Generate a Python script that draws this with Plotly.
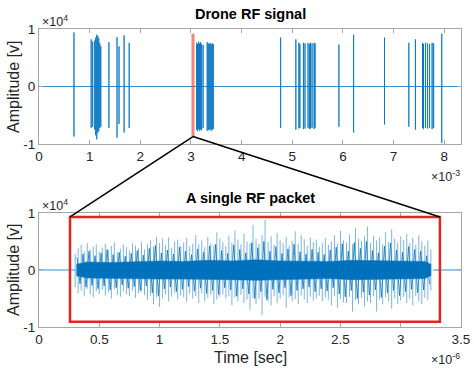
import plotly.graph_objects as go

# ---------------- data ----------------
# Top: burst positions (x in units of 1e-3 s) and peak amplitudes (units of 1e4 V)
burst_x = [0.69, 1.03, 1.06, 1.10, 1.12, 1.14, 1.16, 1.18, 1.20, 1.22, 1.38, 1.54, 1.58, 1.68, 1.78,
           3.11, 3.13, 3.15, 3.17, 3.19, 3.21, 3.24, 3.32, 3.34, 3.36, 3.38, 3.40, 3.42, 3.44,
           4.77, 5.07, 5.13, 5.15, 5.22, 5.25, 5.31, 5.34, 5.36, 5.39, 5.43, 5.45,
           5.92, 6.21, 6.82, 7.30, 7.43, 7.57, 7.59, 7.63, 7.67, 7.71, 7.76, 7.79, 7.95]
burst_top = [0.94, 0.82, 0.78, 0.80, 0.85, 0.90, 0.88, 0.84, 0.75, 0.70, 0.77, 0.86, 0.70, 0.89, 0.76,
             0.76, 0.74, 0.78, 0.75, 0.77, 0.74, 0.72, 0.77, 0.75, 0.74, 0.76, 0.73, 0.75, 0.74,
             0.85, 0.82, 0.76, 0.74, 0.76, 0.75, 0.76, 0.74, 0.76, 0.75, 0.76, 0.75,
             0.73, 0.90, 0.85, 0.76, 0.82, 0.76, 0.74, 0.76, 0.75, 0.74, 0.76, 0.75, 0.92]
burst_bot = [-0.87, -0.72, -0.70, -0.75, -0.85, -0.92, -0.80, -0.78, -0.72, -0.70, -0.72, -0.89, -0.65, -0.80, -0.72,
             -0.75, -0.78, -0.74, -0.77, -0.75, -0.76, -0.72, -0.77, -0.75, -0.76, -0.74, -0.77, -0.75, -0.74,
             -0.72, -0.75, -0.73, -0.72, -0.74, -0.73, -0.72, -0.74, -0.73, -0.72, -0.74, -0.72,
             -0.70, -0.80, -0.66, -0.70, -0.75, -0.72, -0.74, -0.72, -0.73, -0.72, -0.74, -0.72, -0.98]
top_xmax = 8.33
highlight_x = [3.01, 3.07]
highlight_y = [-0.87, 0.92]

# Bottom: single packet (x in units of 1e-6 s, amplitude in 1e4 V), read as spike tips
pk_x = [0.300, 0.325, 0.350, 0.375, 0.400, 0.425, 0.450, 0.475, 0.500, 0.525,
        0.550, 0.575, 0.600, 0.625, 0.650, 0.675, 0.700, 0.725, 0.750, 0.775,
        0.800, 0.825, 0.850, 0.875, 0.900, 0.925, 0.950, 0.975, 1.000, 1.025,
        1.050, 1.075, 1.100, 1.125, 1.150, 1.175, 1.200, 1.225, 1.250, 1.275,
        1.300, 1.325, 1.350, 1.375, 1.400, 1.425, 1.450, 1.475, 1.500, 1.525,
        1.550, 1.575, 1.600, 1.625, 1.650, 1.675, 1.700, 1.725, 1.750, 1.775,
        1.800, 1.825, 1.850, 1.875, 1.900, 1.925, 1.950, 1.975, 2.000, 2.025,
        2.050, 2.075, 2.100, 2.125, 2.150, 2.175, 2.200, 2.225, 2.250, 2.275,
        2.300, 2.325, 2.350, 2.375, 2.400, 2.425, 2.450, 2.475, 2.500, 2.525,
        2.550, 2.575, 2.600, 2.625, 2.650, 2.675, 2.700, 2.725, 2.750, 2.775,
        2.800, 2.825, 2.850, 2.875, 2.900, 2.925, 2.950, 2.975, 3.000, 3.025,
        3.050, 3.075, 3.100, 3.125, 3.150, 3.175, 3.200, 3.225, 3.250]
pk_up = [0.28, 0.38, 0.44, 0.33, 0.47, 0.36, 0.41, 0.45, 0.32, 0.39,
         0.46, 0.35, 0.42, 0.48, 0.31, 0.37, 0.44, 0.40, 0.34, 0.47,
         0.43, 0.38, 0.49, 0.36, 0.45, 0.52, 0.41, 0.58, 0.47, 0.55,
         0.44, 0.57, 0.39, 0.50, 0.53, 0.42, 0.48, 0.56, 0.41, 0.46,
         0.61, 0.45, 0.52, 0.40, 0.58, 0.47, 0.43, 0.66, 0.55, 0.49,
         0.42, 0.60, 0.48, 0.69, 0.53, 0.45, 0.64, 0.50, 0.47, 0.79,
         0.55, 0.46, 0.61, 0.88, 0.49, 0.59, 0.44, 0.65, 0.52, 0.47,
         0.58, 0.43, 0.51, 0.68, 0.46, 0.61, 0.54, 0.42, 0.57, 0.49,
         0.53, 0.41, 0.47, 0.56, 0.44, 0.50, 0.61, 0.46, 0.69, 0.52,
         0.48, 0.62, 0.45, 0.73, 0.55, 0.51, 0.59, 0.76, 0.47, 0.60,
         0.52, 0.57, 0.45, 0.66, 0.49, 0.71, 0.55, 0.48, 0.59, 0.53,
         0.63, 0.47, 0.56, 0.44, 0.61, 0.50, 0.43, 0.52, 0.36]
pk_lo = [-0.30, -0.41, -0.36, -0.46, -0.33, -0.43, -0.48, -0.37, -0.42, -0.35,
         -0.45, -0.39, -0.50, -0.34, -0.44, -0.47, -0.38, -0.42, -0.46, -0.36,
         -0.49, -0.41, -0.38, -0.44, -0.52, -0.45, -0.60, -0.48, -0.65, -0.50,
         -0.43, -0.55, -0.47, -0.40, -0.52, -0.45, -0.48, -0.56, -0.42, -0.50,
         -0.46, -0.58, -0.41, -0.55, -0.49, -0.44, -0.60, -0.52, -0.47, -0.43,
         -0.50, -0.46, -0.62, -0.48, -0.55, -0.44, -0.58, -0.52, -0.70, -0.49,
         -0.60, -0.51, -0.79, -0.47, -0.55, -0.62, -0.46, -0.58, -0.50, -0.44,
         -0.66, -0.48, -0.55, -0.51, -0.60, -0.45, -0.52, -0.58, -0.47, -0.54,
         -0.50, -0.45, -0.55, -0.48, -0.52, -0.62, -0.46, -0.66, -0.51, -0.57,
         -0.58, -0.47, -0.73, -0.53, -0.60, -0.49, -0.64, -0.55, -0.58, -0.46,
         -0.73, -0.52, -0.60, -0.48, -0.55, -0.68, -0.50, -0.60, -0.54, -0.47,
         -0.58, -0.51, -0.62, -0.46, -0.55, -0.60, -0.49, -0.53, -0.36]
# dense body of the packet
mid_x = [0.315, 0.365, 0.415, 0.465, 0.515, 0.565, 0.615, 0.665, 0.715, 0.765,
         0.815, 0.865, 0.915, 0.965, 1.015, 1.065, 1.115, 1.165, 1.215, 1.265,
         1.315, 1.365, 1.415, 1.465, 1.515, 1.565, 1.615, 1.665, 1.715, 1.765,
         1.815, 1.865, 1.915, 1.965, 2.015, 2.065, 2.115, 2.165, 2.215, 2.265,
         2.315, 2.365, 2.415, 2.465, 2.515, 2.565, 2.615, 2.665, 2.715, 2.765,
         2.815, 2.865, 2.915, 2.965, 3.015, 3.065, 3.115, 3.165, 3.215]
mid_up = [0.22, 0.28, 0.33, 0.25, 0.30, 0.36, 0.27, 0.31, 0.24, 0.29,
          0.34, 0.26, 0.38, 0.43, 0.30, 0.35, 0.28, 0.40, 0.33, 0.27,
          0.37, 0.31, 0.42, 0.45, 0.34, 0.29, 0.44, 0.36, 0.30, 0.48,
          0.39, 0.50, 0.33, 0.41, 0.29, 0.37, 0.45, 0.32, 0.28, 0.36,
          0.31, 0.27, 0.35, 0.40, 0.46, 0.33, 0.48, 0.38, 0.50, 0.34,
          0.30, 0.42, 0.47, 0.35, 0.31, 0.41, 0.36, 0.33, 0.25]
mid_lo = [-0.24, -0.30, -0.27, -0.33, -0.28, -0.35, -0.31, -0.26, -0.32, -0.29,
          -0.36, -0.28, -0.40, -0.45, -0.33, -0.30, -0.38, -0.34, -0.29, -0.37,
          -0.32, -0.41, -0.36, -0.43, -0.31, -0.35, -0.46, -0.33, -0.42, -0.50,
          -0.38, -0.52, -0.34, -0.40, -0.31, -0.45, -0.36, -0.33, -0.30, -0.38,
          -0.33, -0.37, -0.31, -0.42, -0.47, -0.36, -0.50, -0.39, -0.44, -0.35,
          -0.48, -0.40, -0.36, -0.45, -0.38, -0.34, -0.40, -0.35, -0.25]
core_x = [0.31, 0.40, 0.60, 0.80, 1.00, 1.20, 1.40, 1.60, 1.80, 2.00, 2.20, 2.40, 2.60, 2.80, 3.00, 3.20, 3.25]
core_up = [0.10, 0.14, 0.13, 0.15, 0.16, 0.15, 0.17, 0.16, 0.18, 0.16, 0.15, 0.15, 0.17, 0.16, 0.16, 0.15, 0.10]
core_lo = [-0.10, -0.14, -0.14, -0.15, -0.16, -0.16, -0.16, -0.17, -0.18, -0.16, -0.16, -0.15, -0.17, -0.17, -0.16, -0.15, -0.10]
bot_xmax = 3.5
packet_start, packet_end = 0.30, 3.27
packet_box_x = [0.257, 3.325]
packet_box_y = [-0.91, 0.93]

top_xticks = [0, 1, 2, 3, 4, 5, 6, 7, 8]
top_xticktext = ["0", "1", "2", "3", "4", "5", "6", "7", "8"]
bot_xticks = [0, 0.5, 1, 1.5, 2, 2.5, 3, 3.5]
bot_xticktext = ["0", "0.5", "1", "1.5", "2", "2.5", "3", "3.5"]
yticks = [-1, 0, 1]
yticktext = ["-1", "0", "1"]

# ---------------- figure ----------------
BLUE = "#0072BD"
RED = "#E3261B"
FONT = "Liberation Sans, Arial, sans-serif"
TXT = "#262626"
AX = "#A6A6A6"

W, H = 474, 371
ML, MR, MT, MB = 39, 3, 29, 44
PLOT_R = 461          # right edge of the axes in pixels
XD = (PLOT_R - ML) / (W - ML - MR)
top_dom = [0.614, 1.0]
bot_dom = [0.0, 0.3826]

# top signal path
tx, ty = [0.0], [0.0]
for x, a, b in zip(burst_x, burst_top, burst_bot):
    tx += [x, x, x, x]
    ty += [0.0, a, b, 0.0]
tx.append(top_xmax)
ty.append(0.0)

# bottom packet: vertical spikes + dense zigzag body + baseline
sx, sy = [], []
for x, a, b in zip(pk_x, pk_up, pk_lo):
    sx += [x, x, None]
    sy += [a, b, None]
mx, my = [], []
for x, a, b in zip(mid_x, mid_up, mid_lo):
    mx += [x, x + 0.025]
    my += [a, b]
base_x = [0.0, packet_start, None, packet_end, bot_xmax]
base_y = [0.0, 0.0, None, 0.0, 0.0]

fig = go.Figure()
fig.add_trace(go.Scatter(x=tx, y=ty, mode="lines", line=dict(color=BLUE, width=0.8),
                         xaxis="x", yaxis="y", showlegend=False, hoverinfo="skip"))
fig.add_trace(go.Scatter(x=base_x, y=base_y, mode="lines", line=dict(color=BLUE, width=0.8),
                         xaxis="x2", yaxis="y2", showlegend=False, hoverinfo="skip"))
fig.add_trace(go.Scatter(x=core_x + core_x[::-1], y=core_up + core_lo[::-1], fill="toself",
                         fillcolor=BLUE, line=dict(color=BLUE, width=0.5), mode="lines",
                         xaxis="x2", yaxis="y2", showlegend=False, hoverinfo="skip"))
fig.add_trace(go.Scatter(x=sx, y=sy, mode="lines", line=dict(color=BLUE, width=0.7),
                         opacity=0.75, connectgaps=False, xaxis="x2", yaxis="y2",
                         showlegend=False, hoverinfo="skip"))
fig.add_trace(go.Scatter(x=mx, y=my, mode="lines", line=dict(color=BLUE, width=0.8),
                         xaxis="x2", yaxis="y2", showlegend=False, hoverinfo="skip"))

axis_common = dict(showgrid=False, zeroline=False, showline=True, linecolor=AX, linewidth=1,
                   mirror="ticks", ticks="inside", ticklen=4, tickcolor=AX, automargin=False,
                   tickfont=dict(family=FONT, size=13.5, color=TXT))

fig.update_layout(
    width=W, height=H, autosize=False,
    margin=dict(l=ML, r=MR, t=MT, b=MB, autoexpand=False),
    paper_bgcolor="white", plot_bgcolor="white",
    xaxis=dict(domain=[0, XD], range=[0, top_xmax], tickvals=top_xticks,
               ticktext=top_xticktext, anchor="y", **axis_common),
    yaxis=dict(domain=top_dom, range=[-1, 1], tickvals=yticks, ticktext=yticktext,
               anchor="x", **axis_common),
    xaxis2=dict(domain=[0, XD], range=[0, bot_xmax], tickvals=bot_xticks,
                ticktext=bot_xticktext, anchor="y2", **axis_common),
    yaxis2=dict(domain=bot_dom, range=[-1, 1], tickvals=yticks, ticktext=yticktext,
                anchor="x2", **axis_common),
)

# highlight on top plot
fig.add_shape(type="rect", xref="x", yref="y", x0=highlight_x[0], x1=highlight_x[1],
              y0=highlight_y[0], y1=highlight_y[1], fillcolor="rgba(232,70,50,0.65)",
              line=dict(width=0), layer="above")
# packet box on bottom plot
fig.add_shape(type="rect", xref="x2", yref="y2", x0=packet_box_x[0], x1=packet_box_x[1],
              y0=packet_box_y[0], y1=packet_box_y[1], line=dict(color=RED, width=2.5),
              fillcolor="rgba(0,0,0,0)", layer="above")

def px_top(x, y):
    return x / top_xmax * XD, top_dom[0] + (y + 1) / 2 * (top_dom[1] - top_dom[0])

def px_bot(x, y):
    return x / bot_xmax * XD, bot_dom[0] + (y + 1) / 2 * (bot_dom[1] - bot_dom[0])

hx, hy = px_top(sum(highlight_x) / 2, highlight_y[0])
for bxv in packet_box_x:
    cx, cy = px_bot(bxv, packet_box_y[1])
    fig.add_shape(type="line", xref="paper", yref="paper", x0=hx, y0=hy, x1=cx, y1=cy,
                  line=dict(color="black", width=1.5), layer="above")

def ann(text, x, y, size=13, bold=False, xanchor="center", yanchor="middle", angle=0):
    fig.add_annotation(text=("<b>%s</b>" % text) if bold else text, x=x, y=y, xref="paper", yref="paper",
                       showarrow=False, xanchor=xanchor, yanchor=yanchor, textangle=angle,
                       font=dict(family=FONT, size=size, color="black" if bold else TXT))

def pxp(px, py):
    return (px - ML) / (W - ML - MR), (H - MB - py) / (H - MT - MB)

ann("Drone RF signal", *pxp(250, 14), size=14.5, bold=True)
ann("A single RF packet", *pxp(250, 198), size=14.5, bold=True)
ann("Time [sec]", *pxp(250, 357), size=16)
ann("Amplitude [v]", *pxp(13, 87), size=16, angle=-90)
ann("Amplitude [v]", *pxp(13, 270), size=16, angle=-90)
ann("×10<sup>4</sup>", *pxp(40, 21), size=12.5, xanchor="left")
ann("×10<sup>4</sup>", *pxp(40, 205), size=12.5, xanchor="left")
ann("×10<sup>-3</sup>", *pxp(462, 176), size=12.5, xanchor="right")
ann("×10<sup>-6</sup>", *pxp(462, 359), size=12.5, xanchor="right")

fig.write_html(
    "out.html",
    config={"displayModeBar": False, "responsive": False},
    post_script="document.documentElement.style.overflow='hidden';"
                "document.body.style.margin='0';document.body.style.overflow='hidden';",
)
